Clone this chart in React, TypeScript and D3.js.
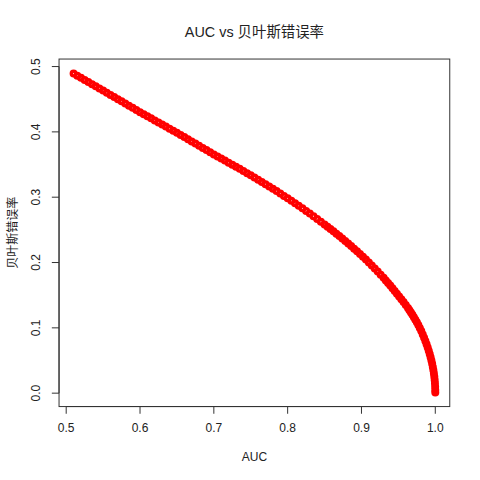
import React from "react";
import * as d3 from "d3";

// AUC values (dense sampling, the original has many overlapping points)
const aucValues = [
  0.510, 0.515, 0.520, 0.525, 0.530, 0.535, 0.540, 0.545, 0.550, 0.555,
  0.560, 0.565, 0.570, 0.575, 0.580, 0.585, 0.590, 0.595, 0.600, 0.605,
  0.610, 0.615, 0.620, 0.625, 0.630, 0.635, 0.640, 0.645, 0.650, 0.655,
  0.660, 0.665, 0.670, 0.675, 0.680, 0.685, 0.690, 0.695, 0.700, 0.705,
  0.710, 0.715, 0.720, 0.725, 0.730, 0.735, 0.740, 0.745, 0.750, 0.755,
  0.760, 0.765, 0.770, 0.775, 0.780, 0.785, 0.790, 0.795, 0.800, 0.805,
  0.810, 0.815, 0.820, 0.825, 0.830, 0.835, 0.840, 0.845, 0.850, 0.854,
  0.858, 0.862, 0.866, 0.870, 0.874, 0.878, 0.882, 0.886, 0.890, 0.894,
  0.898, 0.902, 0.906, 0.910, 0.914, 0.918, 0.922, 0.926, 0.930, 0.933,
  0.936, 0.939, 0.942, 0.945, 0.948, 0.951, 0.954, 0.957, 0.960, 0.963,
  0.965, 0.967, 0.969, 0.971, 0.973, 0.975, 0.977, 0.979, 0.981, 0.98299,
  0.98482, 0.98656, 0.98819, 0.98971, 0.99113, 0.99244, 0.99365, 0.99475, 0.99575, 0.99664,
  0.99743, 0.99811, 0.99869, 0.99916, 0.99953, 0.99979, 0.99995, 1.0,
];

// Bayes error rate, same order as aucValues
const bayesErrors = [
  0.4893, 0.4860, 0.4828, 0.4795, 0.4763, 0.4730, 0.4698, 0.4665, 0.4633, 0.4600,
  0.4566, 0.4534, 0.4500, 0.4468, 0.4434, 0.4401, 0.4368, 0.4334, 0.4301, 0.4270,
  0.4238, 0.4207, 0.4176, 0.4144, 0.4113, 0.4081, 0.4049, 0.4017, 0.3985, 0.3952,
  0.3920, 0.3887, 0.3854, 0.3821, 0.3788, 0.3755, 0.3721, 0.3688, 0.3653, 0.3623,
  0.3592, 0.3561, 0.3529, 0.3498, 0.3466, 0.3434, 0.3401, 0.3368, 0.3335, 0.3301,
  0.3268, 0.3233, 0.3199, 0.3164, 0.3129, 0.3093, 0.3057, 0.3020, 0.2983, 0.2945,
  0.2907, 0.2869, 0.2830, 0.2790, 0.2750, 0.2709, 0.2668, 0.2626, 0.2583, 0.2549,
  0.2513, 0.2478, 0.2442, 0.2405, 0.2368, 0.2330, 0.2291, 0.2252, 0.2212, 0.2172,
  0.2130, 0.2088, 0.2045, 0.2001, 0.1956, 0.1910, 0.1863, 0.1814, 0.1765, 0.1726,
  0.1687, 0.1647, 0.1606, 0.1564, 0.1521, 0.1479, 0.1437, 0.1394, 0.1349, 0.1302,
  0.1269, 0.1235, 0.1200, 0.1163, 0.1125, 0.1085, 0.1043, 0.0999, 0.0951, 0.0900,
  0.0850, 0.0800, 0.0750, 0.0700, 0.0650, 0.0600, 0.0550, 0.0500, 0.0450, 0.0400,
  0.0350, 0.0300, 0.0250, 0.0200, 0.0150, 0.0100, 0.0050, 0.0010,
];

const xTicks = [0.5, 0.6, 0.7, 0.8, 0.9, 1.0];
const yTicks = [0.0, 0.1, 0.2, 0.3, 0.4, 0.5];

const title = "AUC vs 贝叶斯错误率";
const xLabel = "AUC";
const yLabel = "贝叶斯错误率";

export default function App() {
  const width = 480;
  const height = 480;
  // R default margins, 14.4px per line
  const margin = { top: 59.04, right: 30.24, bottom: 73.44, left: 59.04 };
  const left = margin.left;
  const right = width - margin.right;
  const top = margin.top;
  const bottom = height - margin.bottom;

  const xScale = d3.scaleLinear().domain([0.4903, 1.0196]).range([left, right]);
  const yScale = d3.scaleLinear().domain([-0.0205, 0.5115]).range([bottom, top]);

  const font = "'Liberation Sans', 'Noto Sans CJK SC', sans-serif";
  const textColor = "#222";
  const lineColor = "#333";

  const points = aucValues.map((a, i) => ({ auc: a, err: bayesErrors[i] }));

  return (
    <div style={{ position: "fixed", left: 0, top: 0, width, height, background: "#fff" }}>
      <svg width={width} height={height} style={{ display: "block" }}>
        <rect x={0} y={0} width={width} height={height} fill="#fff" />

        {/* points */}
        <g>
          {points.map((d, i) => (
            <circle
              key={i}
              cx={xScale(d.auc)}
              cy={yScale(d.err)}
              r={2.3}
              fill="none"
              stroke="#ff0000"
              strokeWidth={3.4}
            />
          ))}
        </g>

        {/* box */}
        <rect
          x={left}
          y={top}
          width={right - left}
          height={bottom - top}
          fill="none"
          stroke={lineColor}
          strokeWidth={1}
        />

        {/* x axis */}
        <g>
          <line
            x1={xScale(xTicks[0])}
            x2={xScale(xTicks[xTicks.length - 1])}
            y1={bottom}
            y2={bottom}
            stroke={lineColor}
          />
          {xTicks.map((t) => (
            <g key={t}>
              <line x1={xScale(t)} x2={xScale(t)} y1={bottom} y2={bottom + 7.2} stroke={lineColor} />
              <text
                x={xScale(t)}
                y={432}
                textAnchor="middle"
                fontFamily={font}
                fontSize={12}
                fill={textColor}
              >
                {t.toFixed(1)}
              </text>
            </g>
          ))}
        </g>

        {/* y axis */}
        <g>
          <line
            x1={left}
            x2={left}
            y1={yScale(yTicks[0])}
            y2={yScale(yTicks[yTicks.length - 1])}
            stroke={lineColor}
          />
          {yTicks.map((t) => (
            <g key={t}>
              <line x1={left - 7.2} x2={left} y1={yScale(t)} y2={yScale(t)} stroke={lineColor} />
              <text
                transform={`translate(40,${yScale(t)}) rotate(-90)`}
                textAnchor="middle"
                fontFamily={font}
                fontSize={12}
                fill={textColor}
              >
                {t.toFixed(1)}
              </text>
            </g>
          ))}
        </g>

        {/* labels */}
        <text
          x={(left + right) / 2}
          y={37}
          textAnchor="middle"
          fontFamily={font}
          fontSize={14.4}
          fill={textColor}
        >
          {title}
        </text>
        <text
          x={(left + right) / 2}
          y={461}
          textAnchor="middle"
          fontFamily={font}
          fontSize={12}
          fill={textColor}
        >
          {xLabel}
        </text>
        <text
          transform={`translate(17,${(top + bottom) / 2}) rotate(-90)`}
          textAnchor="middle"
          fontFamily={font}
          fontSize={12}
          fill={textColor}
        >
          {yLabel}
        </text>
      </svg>
    </div>
  );
}
